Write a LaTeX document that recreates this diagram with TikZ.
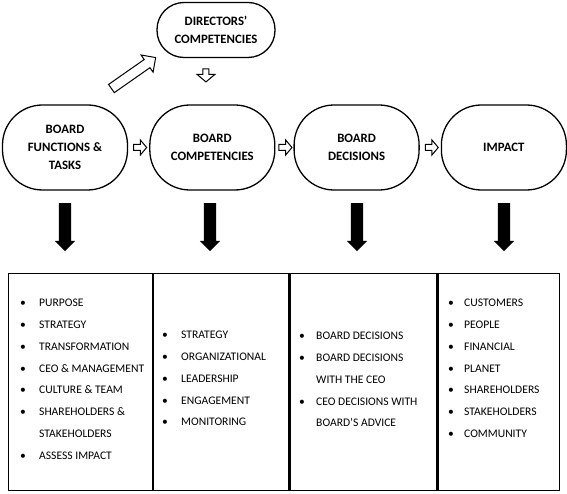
\documentclass[tikz,border=0pt]{standalone}
\usepackage{fontspec}
\setmainfont{Carlito}
\usetikzlibrary{positioning,shapes.arrows}

\begin{document}
\begin{tikzpicture}[%
      x=1pt, y=-1pt,
      every node/.style={inner sep=0pt},
      oval/.style={draw, line width=1.3pt, rounded corners=40pt, minimum width=125pt, minimum height=85pt, align=center, font=\fontsize{12.8}{18}\selectfont\bfseries},
      hollow/.style={single arrow, draw, line width=1pt, fill=white, single arrow tip angle=100},
      solid/.style={single arrow, fill=black, minimum height=48pt, inner sep=6pt, single arrow head extend=4pt, rotate=-90},
      col/.style={draw, line width=1.2pt, anchor=north west, minimum height=217pt},
      items/.style={anchor=north west, font=\fontsize{11.6}{21.8}\selectfont},
      node distance=21pt, >=latex
    ]
    \useasboundingbox (0,0) rectangle (567,494);
    % ovals
    \node [oval, minimum width=118pt, minimum height=55pt, rounded corners=27pt] (dir) at (216,30) {DIRECTORS’\\COMPETENCIES};
    \node [oval] (func) at (65,147.5) {BOARD\\FUNCTIONS \&\\TASKS};
    \node [oval, right=of func] (comp) {BOARD\\COMPETENCIES};
    \node [oval, right=18pt of comp] (dec) {BOARD\\DECISIONS};
    \node [oval, right=of dec] (imp) {IMPACT};
    % hollow arrows
    \node [hollow, minimum height=13pt, inner sep=2.5pt, single arrow head extend=4.5pt, right=5pt of func] (f2c) {};
    \node [hollow, minimum height=13pt, inner sep=2.5pt, single arrow head extend=4.5pt, right=3pt of comp] (c2d) {};
    \node [hollow, minimum height=13pt, inner sep=2.5pt, single arrow head extend=4.5pt, right=5pt of dec] (d2i) {};
    \node [hollow, minimum height=13pt, inner sep=2.5pt, single arrow head extend=6pt, rotate=-90, below=16pt of dir] (d2c) {};
    \node [hollow, minimum height=54pt, inner sep=4.5pt, single arrow head extend=5.5pt, single arrow tip angle=90, rotate=35] (f2d) at (131.5,74.5) {};
    % black arrows
    \node [solid] (a1) at (65,224) {};
    \node [solid] (a2) at (210,224) {};
    \node [solid] (a3) at (357,224) {};
    \node [solid] (a4) at (504,224) {};
    % table
    \node [col, minimum width=144pt] (t1) at (8,273) {};
    \node [col, minimum width=135pt, right=0pt of t1] (t2) {};
    \node [col, minimum width=147pt, right=0pt of t2] (t3) {};
    \node [col, minimum width=121pt, right=0pt of t3] (t4) {};
    \node [items] (l1) at (20,291.3) {\begin{tabular}{@{}p{19pt}@{}l@{}}
      \textbullet & PURPOSE\\
      \textbullet & STRATEGY\\
      \textbullet & TRANSFORMATION\\
      \textbullet & CEO \& MANAGEMENT\\
      \textbullet & CULTURE \& TEAM\\
      \textbullet & SHAREHOLDERS \&\\
                  & STAKEHOLDERS\\
      \textbullet & ASSESS IMPACT
    \end{tabular}};
    \node [items] (l2) at (162,323.3) {\begin{tabular}{@{}p{19pt}@{}l@{}}
      \textbullet & STRATEGY\\
      \textbullet & ORGANIZATIONAL\\
      \textbullet & LEADERSHIP\\
      \textbullet & ENGAGEMENT\\
      \textbullet & MONITORING
    \end{tabular}};
    \node [items] (l3) at (299,324.3) {\begin{tabular}{@{}p{17pt}@{}l@{}}
      \textbullet & BOARD DECISIONS\\
      \textbullet & BOARD DECISIONS\\
                  & WITH THE CEO\\
      \textbullet & CEO DECISIONS WITH\\
                  & BOARD’S ADVICE
    \end{tabular}};
    \node [items] (l4) at (448,291.3) {\begin{tabular}{@{}p{16pt}@{}l@{}}
      \textbullet & CUSTOMERS\\
      \textbullet & PEOPLE\\
      \textbullet & FINANCIAL\\
      \textbullet & PLANET\\
      \textbullet & SHAREHOLDERS\\
      \textbullet & STAKEHOLDERS\\
      \textbullet & COMMUNITY
    \end{tabular}};
  \end{tikzpicture}
\end{document}
